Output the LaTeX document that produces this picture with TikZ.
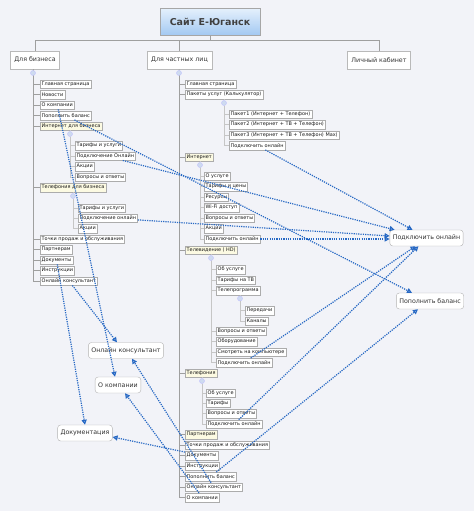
\documentclass[tikz,border=0pt]{standalone}
\usepackage{fontspec}
\setmainfont{DejaVu Sans}
\usetikzlibrary{arrows.meta}
\definecolor{mapbg}{RGB}{242,243,248}
\definecolor{linkblue}{RGB}{38,104,196}
\definecolor{topicfill}{RGB}{252,250,226}
\definecolor{dotblue}{RGB}{206,219,240}
\definecolor{rootlight}{RGB}{228,240,252}
\definecolor{rootdark}{RGB}{162,200,242}

\begin{document}
\begin{tikzpicture}[x=1pt, y=-1pt,
  root/.style={rectangle, draw=gray!70, top color=rootlight, bottom color=rootdark,
              minimum width=100pt, minimum height=27pt, font=\fontsize{9.5}{10}\selectfont\bfseries, text=black!75},
  head/.style={rectangle, draw=gray!55, fill=white, minimum height=18pt, inner xsep=4pt,
              font=\fontsize{6.3}{7}\selectfont, text=black!80},
  leaf/.style={rectangle, draw=gray!65, fill=white, anchor=west, inner xsep=1.5pt, inner ysep=0pt,
              minimum height=8.5pt, font=\fontsize{4.95}{5}\selectfont, text=black!90},
  topic/.style={leaf, fill=topicfill},
  target/.style={rectangle, rounded corners=3pt, draw=gray!60, fill=white, minimum height=16pt,
              inner xsep=3pt, font=\fontsize{6.3}{7}\selectfont, text=black!80},
  branch/.style={draw=gray!75, line width=0.6pt},
  twig/.style={draw=gray!45, line width=0.6pt},
  fold/.style={circle, draw=blue!25, fill=dotblue, inner sep=0pt, minimum size=5pt},
  link/.style={linkblue, line width=1.2pt, dash pattern=on 1.2pt off 1.1pt,
              -{Triangle[open, length=5pt, width=5pt]}}
]
\fill[mapbg] (0,0) rectangle (474,511);

% root and first level
\node[root] (site) at (210,22) {Сайт Е-Юганск};
\node[head] (biz)  at (35,60)    {Для бизнеса};
\node[head] (priv) at (179.5,60) {Для частных лиц};
\node[head] (cab)  at (379,60)   {Личный кабинет};

\draw[branch] (site.south) -- ++(0,5) -| (biz.north);
\draw[branch] (site.south) -- ++(0,5) -| (priv.north);
\draw[branch] (site.south) -- ++(0,5) -| (cab.north);

% for business
\node[fold] (bizdot) at (33,73) {};
\node[leaf]  (bizhome)     at (40,84)    {Главная страница};
\node[leaf]  (biznews)     at (40,94.5)  {Новости};
\node[leaf]  (bizabout)    at (40,105)   {О компании};
\node[leaf]  (bizpay)      at (40,115.5) {Пополнить баланс};
\node[topic] (bizinet)     at (40,126)   {Интернет для бизнеса};
\node[fold]  (bizinetdot)  at (70,134)   {};
\node[leaf]  (bizinettar)  at (75,145.5) {Тарифы и услуги};
\node[leaf]  (bizinetconn) at (75,156)   {Подключение Онлайн};
\node[leaf]  (bizinetsale) at (75,166.5) {Акции};
\node[leaf]  (bizinetfaq)  at (75,177)   {Вопросы и ответы};
\node[topic] (biztel)      at (40,187.5) {Телефония для бизнеса};
\node[fold]  (bizteldot)   at (73,196)   {};
\node[leaf]  (bizteltar)   at (78,208)   {Тарифы и услуги};
\node[leaf]  (biztelconn)  at (78,218)   {Подключение онлайн};
\node[leaf]  (biztelsale)  at (78,228.5) {Акции};
\node[leaf]  (bizshops)    at (40,239)   {Точки продаж и обслуживания};
\node[leaf]  (bizpart)     at (40,249.5) {Партнерам};
\node[leaf]  (bizdocs)     at (40,260)   {Документы};
\node[leaf]  (bizhelp)     at (40,270.5) {Инструкции};
\node[leaf]  (bizchat)     at (40,281)   {Онлайн консультант};

\draw[branch] (biz) -- (bizdot);
\foreach \n in {bizhome,biznews,bizabout,bizpay,bizinet,biztel,bizshops,bizpart,bizdocs,bizhelp,bizchat}
  \draw[branch] (bizdot.south) |- (\n.west);
\draw[twig] (bizinetdot |- bizinet.south) -- (bizinetdot);
\foreach \n in {bizinettar,bizinetconn,bizinetsale,bizinetfaq}
  \draw[twig] (bizinetdot.south) |- (\n.west);
\draw[twig] (bizteldot |- biztel.south) -- (bizteldot);
\foreach \n in {bizteltar,biztelconn,biztelsale}
  \draw[twig] (bizteldot.south) |- (\n.west);

% for private persons
\node[fold] (privdot) at (179,73) {};
\node[leaf]  (prhome)      at (185,84)    {Главная страница};
\node[leaf]  (prpkg)       at (185,94.5)  {Пакеты услуг (Калькулятор)};
\node[fold]  (prpkgdot)    at (224,103)   {};
\node[leaf]  (prpkg1)      at (229,114)   {Пакет1 (Интернет + Телефон)};
\node[leaf]  (prpkg2)      at (229,124.5) {Пакет2 (Интернет + ТВ + Телефон)};
\node[leaf]  (prpkg3)      at (229,135)   {Пакет3 (Интернет + ТВ + Телефон) Max)};
\node[leaf]  (prpkgconn)   at (229,145.5) {Подключить онлайн};
\node[topic] (prinet)      at (185,157)   {Интернет};
\node[fold]  (prinetdot)   at (200,165)   {};
\node[leaf]  (prinetabout) at (204,176)   {О услуге};
\node[leaf]  (prinettar)   at (204,186.5) {Тарифы и цены};
\node[leaf]  (prinetres)   at (204,197)   {Ресурсы};
\node[leaf]  (prinetwifi)  at (204,207.5) {Wi-Fi доступ};
\node[leaf]  (prinetfaq)   at (204,218)   {Вопросы и ответы};
\node[leaf]  (prinetsale)  at (204,228.5) {Акции};
\node[leaf]  (prinetconn)  at (204,239)   {Подключить онлайн};
\node[topic] (prtv)        at (185,250)   {Телевидение ( HD)};
\node[fold]  (prtvdot)     at (211,258)   {};
\node[leaf]  (prtvabout)   at (216,269.5) {Об услуге};
\node[leaf]  (prtvtar)     at (216,280)   {Тарифы на ТВ};
\node[leaf]  (prtvguide)   at (216,290.5) {Телепрограмма};
\node[fold]  (prguidedot)  at (240,298.5) {};
\node[leaf]  (prshows)     at (245,310.5) {Передачи};
\node[leaf]  (prchannels)  at (245,321)   {Каналы};
\node[leaf]  (prtvfaq)     at (216,331)   {Вопросы и ответы};
\node[leaf]  (prtvgear)    at (216,341.5) {Оборудование};
\node[leaf]  (prtvweb)     at (216,352)   {Смотреть на компьютере};
\node[leaf]  (prtvconn)    at (216,362.5) {Подключить онлайн};
\node[topic] (prtel)       at (185,373)   {Телефония};
\node[fold]  (prteldot)    at (202,381)   {};
\node[leaf]  (prtelabout)  at (206,393)   {Об услуге};
\node[leaf]  (prteltar)    at (206,403)   {Тарифы};
\node[leaf]  (prtelfaq)    at (206,413.5) {Вопросы и ответы};
\node[leaf]  (prtelconn)   at (206,424)   {Подключить онлайн};
\node[topic] (prpart)      at (185,434.5) {Партнерам};
\node[leaf]  (prshops)     at (185,445)   {Точки продаж и обслуживания};
\node[leaf]  (prdocs)      at (185,455.5) {Документы};
\node[leaf]  (prhelp)      at (185,466)   {Инструкции};
\node[leaf]  (prpay)       at (185,476.5) {Пополнить баланс};
\node[leaf]  (prchat)      at (185,487)   {Онлайн консультант};
\node[leaf]  (prabout)     at (185,497.5) {О компании};

\draw[branch] (priv) -- (privdot);
\foreach \n in {prhome,prpkg,prinet,prtv,prtel,prpart,prshops,prdocs,prhelp,prpay,prchat,prabout}
  \draw[branch] (privdot.south) |- (\n.west);
\draw[twig] (prpkgdot |- prpkg.south) -- (prpkgdot);
\foreach \n in {prpkg1,prpkg2,prpkg3,prpkgconn}
  \draw[twig] (prpkgdot.south) |- (\n.west);
\draw[twig] (prinetdot |- prinet.south) -- (prinetdot);
\foreach \n in {prinetabout,prinettar,prinetres,prinetwifi,prinetfaq,prinetsale,prinetconn}
  \draw[twig] (prinetdot.south) |- (\n.west);
\draw[twig] (prtvdot |- prtv.south) -- (prtvdot);
\foreach \n in {prtvabout,prtvtar,prtvguide,prtvfaq,prtvgear,prtvweb,prtvconn}
  \draw[twig] (prtvdot.south) |- (\n.west);
\draw[twig] (prguidedot |- prtvguide.south) -- (prguidedot);
\foreach \n in {prshows,prchannels}
  \draw[twig] (prguidedot.south) |- (\n.west);
\draw[twig] (prteldot |- prtel.south) -- (prteldot);
\foreach \n in {prtelabout,prteltar,prtelfaq,prtelconn}
  \draw[twig] (prteldot.south) |- (\n.west);

% floating pages
\node[target] (connT)  at (426.5,238) {Подключить онлайн};
\node[target] (payT)   at (430,301)   {Пополнить баланс};
\node[target] (chatT)  at (126,350.5) {Онлайн консультант};
\node[target] (aboutT) at (118,385)   {О компании};
\node[target] (docsT)  at (85,433)    {Документация};

% relations
\draw[link] (bizabout)    -- ([xshift=-3pt]aboutT.north);
\draw[link] (bizdocs)     -- (docsT.north);
\draw[link] (bizchat)     -- ([xshift=-9pt]chatT.north);
\draw[link] (bizpay)      -- ([xshift=-18pt]payT.north);
\draw[link] (bizinetconn) -- ([xshift=5pt]connT.north west);
\draw[link] (biztelconn)  -- ([yshift=2pt]connT.west);
\draw[link] (prpkgconn)   -- ([xshift=-14pt]connT.north);
\draw[link] (prinetconn)  -- ([yshift=-1pt]connT.west);
\draw[link] (prtvconn)    -- ([xshift=-11pt]connT.south);
\draw[link] (prtelconn)   -- ([xshift=-8pt]connT.south);
\draw[link] (prpay)       -- ([xshift=-12pt]payT.south);
\draw[link] (prchat)      -- ([xshift=6pt]chatT.south);
\draw[link] (prabout)     -- ([xshift=7pt]aboutT.south);
\draw[link] (prdocs)      -- ([yshift=-4pt]docsT.east);
\end{tikzpicture}
\end{document}
